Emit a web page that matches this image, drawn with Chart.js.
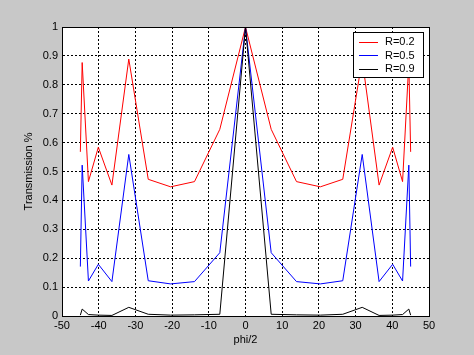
<!DOCTYPE html>
<html>
<head>
<meta charset="utf-8">
<script src="https://cdn.jsdelivr.net/npm/chart.js@4.4.0/dist/chart.umd.min.js"></script>
<style>
  html, body { margin: 0; padding: 0; background: #c8c8c8; overflow: hidden; }
  #wrap { width: 474px; height: 355px; position: relative; }
</style>
</head>
<body>
<div id="wrap"><canvas id="c" width="474" height="355"></canvas></div>
<script>
const xValues = [-45, -44.5, -42.8, -40.1, -36.4, -31.8, -26.5, -20.4, -13.9, -7.0, 0,
                 7.0, 13.9, 20.4, 26.5, 31.8, 36.4, 40.1, 42.8, 44.5, 45];
const seriesR02 = [0.568, 0.877, 0.465, 0.584, 0.453, 0.889, 0.473, 0.447, 0.465, 0.646, 1.0,
                   0.646, 0.465, 0.447, 0.473, 0.889, 0.453, 0.584, 0.465, 0.877, 0.568];
const seriesR05 = [0.171, 0.522, 0.121, 0.179, 0.119, 0.559, 0.122, 0.111, 0.119, 0.219, 1.0,
                   0.219, 0.119, 0.111, 0.122, 0.559, 0.119, 0.179, 0.121, 0.522, 0.171];
const seriesR09 = [0.003, 0.024, 0.005, 0.003, 0.002, 0.030, 0.006, 0.003, 0.004, 0.006, 1.0,
                   0.006, 0.004, 0.003, 0.006, 0.030, 0.002, 0.003, 0.005, 0.024, 0.003];
const seriesLabels = ['R=0.2', 'R=0.5', 'R=0.9'];
const seriesColors = ['#ff0000', '#0000ff', '#000000'];
const xTicks = [-50, -40, -30, -20, -10, 0, 10, 20, 30, 40, 50];
const yTicks = [0, 0.1, 0.2, 0.3, 0.4, 0.5, 0.6, 0.7, 0.8, 0.9, 1];
const xTitle = 'phi/2';
const yTitle = 'Transmission %';

const FONT = "'Liberation Sans', Arial, Helvetica, sans-serif";

const toPoints = (ys) => xValues.map((x, i) => ({ x: x, y: ys[i] }));
const allSeries = [seriesR02, seriesR05, seriesR09];

const datasets = allSeries.map((ys, i) => ({
  label: seriesLabels[i],
  data: toPoints(ys),
  borderColor: seriesColors[i],
  backgroundColor: seriesColors[i],
  borderWidth: 1,
  pointRadius: 0,
  tension: 0,
  showLine: true,
  fill: false,
  order: allSeries.length - 1 - i
}));

const framePlugin = {
  id: 'frame',
  beforeDraw(chart) {
    const { ctx, chartArea: a } = chart;
    ctx.save();
    ctx.fillStyle = '#ffffff';
    ctx.fillRect(a.left, a.top, a.right - a.left, a.bottom - a.top);
    ctx.restore();
  },
  afterDraw(chart) {
    const { ctx, chartArea: a } = chart;
    ctx.save();
    ctx.strokeStyle = '#000000';
    ctx.lineWidth = 1;
    ctx.strokeRect(Math.round(a.left) + 0.5, Math.round(a.top) + 0.5,
                   Math.round(a.right - a.left), Math.round(a.bottom - a.top));
    // legend box
    const bx = 353.5, by = 32.5, bw = 70, bh = 45;
    ctx.fillStyle = '#ffffff';
    ctx.fillRect(bx, by, bw, bh);
    ctx.strokeRect(bx, by, bw, bh);
    ctx.font = '11px ' + FONT;
    ctx.textBaseline = 'middle';
    ctx.textAlign = 'left';
    chart.data.datasets.forEach((ds, i) => {
      const yy = 41.5 + i * 13.5;
      ctx.strokeStyle = ds.borderColor;
      ctx.beginPath();
      ctx.moveTo(359, Math.round(yy) + 0.5);
      ctx.lineTo(378, Math.round(yy) + 0.5);
      ctx.stroke();
      ctx.fillStyle = '#000000';
      ctx.fillText(ds.label, 385, yy + 0.5);
    });
    ctx.restore();
  }
};

new Chart(document.getElementById('c'), {
  type: 'scatter',
  data: { datasets },
  plugins: [framePlugin],
  options: {
    responsive: false,
    animation: false,
    layout: { padding: { top: 27, right: 45, bottom: 0, left: 0 } },
    plugins: {
      legend: { display: false },
      tooltip: { enabled: false }
    },
    scales: {
      x: {
        type: 'linear',
        min: -50, max: 50,
        afterBuildTicks: (s) => { s.ticks = xTicks.map(v => ({ value: v })); },
        afterFit: (s) => { s.height = 39; },
        ticks: {
          color: '#000000',
          font: { family: FONT, size: 11 },
          padding: 3,
          maxRotation: 0,
          autoSkip: false,
          callback: (v) => String(v)
        },
        grid: { color: '#000000', lineWidth: 1, drawTicks: false },
        border: { display: true, color: '#000000', dash: [2, 2] },
        title: {
          display: true, text: xTitle, color: '#000000',
          font: { family: FONT, size: 11 },
          padding: { top: 0, bottom: 8 }
        }
      },
      y: {
        type: 'linear',
        min: 0, max: 1,
        afterBuildTicks: (s) => { s.ticks = yTicks.map(v => ({ value: v })); },
        afterFit: (s) => { s.width = 62; },
        ticks: {
          color: '#000000',
          font: { family: FONT, size: 11 },
          padding: 4,
          autoSkip: false,
          callback: (v) => String(Math.round(v * 10) / 10)
        },
        grid: { color: '#000000', lineWidth: 1, drawTicks: false },
        border: { display: true, color: '#000000', dash: [2, 2] },
        title: {
          display: true, text: yTitle, color: '#000000',
          font: { family: FONT, size: 11 },
          padding: { top: 22, bottom: 0 }
        }
      }
    }
  }
});
</script>
</body>
</html>
